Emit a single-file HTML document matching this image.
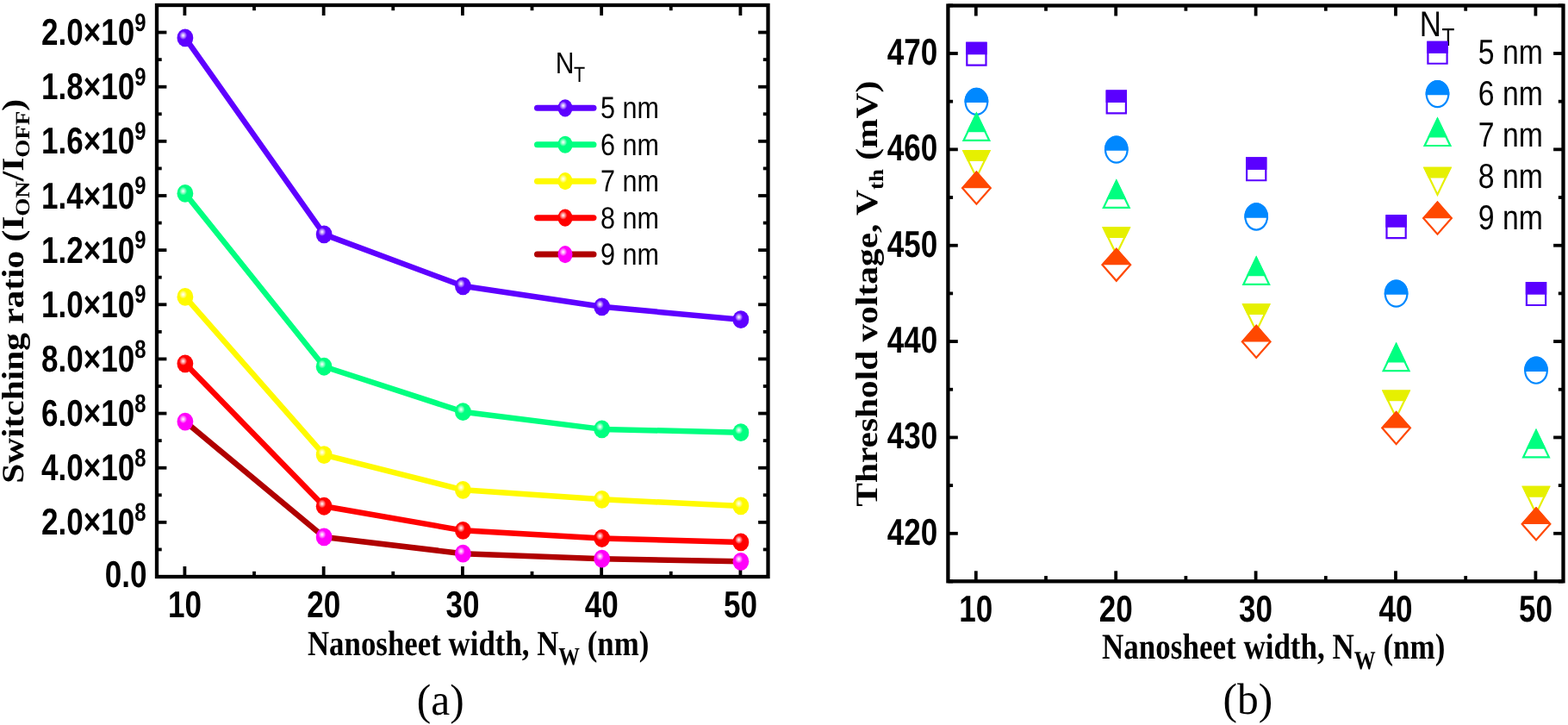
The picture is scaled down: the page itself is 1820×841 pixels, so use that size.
<!DOCTYPE html><html><head><meta charset="utf-8"><title>Figure</title><style>html,body{margin:0;padding:0;background:#fff;overflow:hidden}svg{display:block}</style></head><body><svg width="1820" height="841" viewBox="0 0 1820 841" text-rendering="geometricPrecision"><defs><radialGradient id="hl"><stop offset="0" stop-color="#fff" stop-opacity="1"/><stop offset="0.45" stop-color="#fff" stop-opacity="0.6"/><stop offset="1" stop-color="#fff" stop-opacity="0"/></radialGradient></defs><rect width="1820" height="841" fill="#fff"/><g stroke="#000" stroke-width="3.8"><line x1="214.4" y1="669" x2="214.4" y2="657"/><line x1="214.4" y1="6" x2="214.4" y2="18"/><line x1="375.65" y1="669" x2="375.65" y2="657"/><line x1="375.65" y1="6" x2="375.65" y2="18"/><line x1="536.9" y1="669" x2="536.9" y2="657"/><line x1="536.9" y1="6" x2="536.9" y2="18"/><line x1="698.15" y1="669" x2="698.15" y2="657"/><line x1="698.15" y1="6" x2="698.15" y2="18"/><line x1="859.4" y1="669" x2="859.4" y2="657"/><line x1="859.4" y1="6" x2="859.4" y2="18"/><line x1="295.02" y1="669" x2="295.02" y2="662.8"/><line x1="295.02" y1="6" x2="295.02" y2="12.2"/><line x1="456.27" y1="669" x2="456.27" y2="662.8"/><line x1="456.27" y1="6" x2="456.27" y2="12.2"/><line x1="617.52" y1="669" x2="617.52" y2="662.8"/><line x1="617.52" y1="6" x2="617.52" y2="12.2"/><line x1="778.77" y1="669" x2="778.77" y2="662.8"/><line x1="778.77" y1="6" x2="778.77" y2="12.2"/><line x1="182" y1="669" x2="193.4" y2="669"/><line x1="891.5" y1="669" x2="880.1" y2="669"/><line x1="182" y1="605.86" x2="193.4" y2="605.86"/><line x1="891.5" y1="605.86" x2="880.1" y2="605.86"/><line x1="182" y1="542.71" x2="193.4" y2="542.71"/><line x1="891.5" y1="542.71" x2="880.1" y2="542.71"/><line x1="182" y1="479.57" x2="193.4" y2="479.57"/><line x1="891.5" y1="479.57" x2="880.1" y2="479.57"/><line x1="182" y1="416.43" x2="193.4" y2="416.43"/><line x1="891.5" y1="416.43" x2="880.1" y2="416.43"/><line x1="182" y1="353.29" x2="193.4" y2="353.29"/><line x1="891.5" y1="353.29" x2="880.1" y2="353.29"/><line x1="182" y1="290.14" x2="193.4" y2="290.14"/><line x1="891.5" y1="290.14" x2="880.1" y2="290.14"/><line x1="182" y1="227" x2="193.4" y2="227"/><line x1="891.5" y1="227" x2="880.1" y2="227"/><line x1="182" y1="163.86" x2="193.4" y2="163.86"/><line x1="891.5" y1="163.86" x2="880.1" y2="163.86"/><line x1="182" y1="100.71" x2="193.4" y2="100.71"/><line x1="891.5" y1="100.71" x2="880.1" y2="100.71"/><line x1="182" y1="37.57" x2="193.4" y2="37.57"/><line x1="891.5" y1="37.57" x2="880.1" y2="37.57"/><line x1="182" y1="637.43" x2="187.7" y2="637.43"/><line x1="891.5" y1="637.43" x2="885.8" y2="637.43"/><line x1="182" y1="574.29" x2="187.7" y2="574.29"/><line x1="891.5" y1="574.29" x2="885.8" y2="574.29"/><line x1="182" y1="511.14" x2="187.7" y2="511.14"/><line x1="891.5" y1="511.14" x2="885.8" y2="511.14"/><line x1="182" y1="448" x2="187.7" y2="448"/><line x1="891.5" y1="448" x2="885.8" y2="448"/><line x1="182" y1="384.86" x2="187.7" y2="384.86"/><line x1="891.5" y1="384.86" x2="885.8" y2="384.86"/><line x1="182" y1="321.71" x2="187.7" y2="321.71"/><line x1="891.5" y1="321.71" x2="885.8" y2="321.71"/><line x1="182" y1="258.57" x2="187.7" y2="258.57"/><line x1="891.5" y1="258.57" x2="885.8" y2="258.57"/><line x1="182" y1="195.43" x2="187.7" y2="195.43"/><line x1="891.5" y1="195.43" x2="885.8" y2="195.43"/><line x1="182" y1="132.29" x2="187.7" y2="132.29"/><line x1="891.5" y1="132.29" x2="885.8" y2="132.29"/><line x1="182" y1="69.14" x2="187.7" y2="69.14"/><line x1="891.5" y1="69.14" x2="885.8" y2="69.14"/></g><rect x="182" y="6" width="709.5" height="663" fill="none" stroke="#000" stroke-width="4.3" stroke-linejoin="miter"/><polyline points="214.9,43.89 376.15,271.83 537.4,331.82 698.65,355.81 859.9,370.65" fill="none" stroke="#5e00ff" stroke-width="6.5" stroke-linejoin="round"/><polyline points="214.9,224.47 376.15,425.27 537.4,477.68 698.65,497.88 859.9,501.67" fill="none" stroke="#00ff80" stroke-width="6.5" stroke-linejoin="round"/><polyline points="214.9,344.45 376.15,527.56 537.4,568.29 698.65,579.34 859.9,586.91" fill="none" stroke="#fffa00" stroke-width="6.5" stroke-linejoin="round"/><polyline points="214.9,421.8 376.15,587.23 537.4,615.33 698.65,624.48 859.9,628.9" fill="none" stroke="#ff0000" stroke-width="6.5" stroke-linejoin="round"/><polyline points="214.9,489.04 376.15,622.91 537.4,642.16 698.65,648.16 859.9,651.32" fill="none" stroke="#b00000" stroke-width="6.5" stroke-linejoin="round"/><ellipse cx="214.9" cy="43.89" rx="9.4" ry="10.4" fill="#5e00ff"/><ellipse cx="212.6" cy="41.09" rx="4.6" ry="5" fill="url(#hl)"/><ellipse cx="376.15" cy="271.83" rx="9.4" ry="10.4" fill="#5e00ff"/><ellipse cx="373.85" cy="269.03" rx="4.6" ry="5" fill="url(#hl)"/><ellipse cx="537.4" cy="331.82" rx="9.4" ry="10.4" fill="#5e00ff"/><ellipse cx="535.1" cy="329.02" rx="4.6" ry="5" fill="url(#hl)"/><ellipse cx="698.65" cy="355.81" rx="9.4" ry="10.4" fill="#5e00ff"/><ellipse cx="696.35" cy="353.01" rx="4.6" ry="5" fill="url(#hl)"/><ellipse cx="859.9" cy="370.65" rx="9.4" ry="10.4" fill="#5e00ff"/><ellipse cx="857.6" cy="367.85" rx="4.6" ry="5" fill="url(#hl)"/><ellipse cx="214.9" cy="224.47" rx="9.4" ry="10.4" fill="#00ff80"/><ellipse cx="212.6" cy="221.67" rx="4.6" ry="5" fill="url(#hl)"/><ellipse cx="376.15" cy="425.27" rx="9.4" ry="10.4" fill="#00ff80"/><ellipse cx="373.85" cy="422.47" rx="4.6" ry="5" fill="url(#hl)"/><ellipse cx="537.4" cy="477.68" rx="9.4" ry="10.4" fill="#00ff80"/><ellipse cx="535.1" cy="474.88" rx="4.6" ry="5" fill="url(#hl)"/><ellipse cx="698.65" cy="497.88" rx="9.4" ry="10.4" fill="#00ff80"/><ellipse cx="696.35" cy="495.08" rx="4.6" ry="5" fill="url(#hl)"/><ellipse cx="859.9" cy="501.67" rx="9.4" ry="10.4" fill="#00ff80"/><ellipse cx="857.6" cy="498.87" rx="4.6" ry="5" fill="url(#hl)"/><ellipse cx="214.9" cy="344.45" rx="9.4" ry="10.4" fill="#fffa00"/><ellipse cx="212.6" cy="341.65" rx="4.6" ry="5" fill="url(#hl)"/><ellipse cx="376.15" cy="527.56" rx="9.4" ry="10.4" fill="#fffa00"/><ellipse cx="373.85" cy="524.76" rx="4.6" ry="5" fill="url(#hl)"/><ellipse cx="537.4" cy="568.29" rx="9.4" ry="10.4" fill="#fffa00"/><ellipse cx="535.1" cy="565.49" rx="4.6" ry="5" fill="url(#hl)"/><ellipse cx="698.65" cy="579.34" rx="9.4" ry="10.4" fill="#fffa00"/><ellipse cx="696.35" cy="576.54" rx="4.6" ry="5" fill="url(#hl)"/><ellipse cx="859.9" cy="586.91" rx="9.4" ry="10.4" fill="#fffa00"/><ellipse cx="857.6" cy="584.11" rx="4.6" ry="5" fill="url(#hl)"/><ellipse cx="214.9" cy="421.8" rx="9.4" ry="10.4" fill="#ff0000"/><ellipse cx="212.6" cy="419" rx="4.6" ry="5" fill="url(#hl)"/><ellipse cx="376.15" cy="587.23" rx="9.4" ry="10.4" fill="#ff0000"/><ellipse cx="373.85" cy="584.43" rx="4.6" ry="5" fill="url(#hl)"/><ellipse cx="537.4" cy="615.33" rx="9.4" ry="10.4" fill="#ff0000"/><ellipse cx="535.1" cy="612.53" rx="4.6" ry="5" fill="url(#hl)"/><ellipse cx="698.65" cy="624.48" rx="9.4" ry="10.4" fill="#ff0000"/><ellipse cx="696.35" cy="621.68" rx="4.6" ry="5" fill="url(#hl)"/><ellipse cx="859.9" cy="628.9" rx="9.4" ry="10.4" fill="#ff0000"/><ellipse cx="857.6" cy="626.1" rx="4.6" ry="5" fill="url(#hl)"/><ellipse cx="214.9" cy="489.04" rx="9.4" ry="10.4" fill="#ff00fa"/><ellipse cx="212.6" cy="486.24" rx="4.6" ry="5" fill="url(#hl)"/><ellipse cx="376.15" cy="622.91" rx="9.4" ry="10.4" fill="#ff00fa"/><ellipse cx="373.85" cy="620.11" rx="4.6" ry="5" fill="url(#hl)"/><ellipse cx="537.4" cy="642.16" rx="9.4" ry="10.4" fill="#ff00fa"/><ellipse cx="535.1" cy="639.36" rx="4.6" ry="5" fill="url(#hl)"/><ellipse cx="698.65" cy="648.16" rx="9.4" ry="10.4" fill="#ff00fa"/><ellipse cx="696.35" cy="645.36" rx="4.6" ry="5" fill="url(#hl)"/><ellipse cx="859.9" cy="651.32" rx="9.4" ry="10.4" fill="#ff00fa"/><ellipse cx="857.6" cy="648.52" rx="4.6" ry="5" fill="url(#hl)"/><text transform="translate(170.6 681.2) scale(0.81 1)" font-size="43.3" font-family="'Liberation Sans', Arial, sans-serif" font-weight="bold" text-anchor="end">0.0</text><text transform="translate(156.2 620.36) scale(0.81 1)" font-size="43.3" font-family="'Liberation Sans', Arial, sans-serif" font-weight="bold" text-anchor="end">2.0&#215;10</text><text transform="translate(156.3 604.06) scale(0.81 1)" font-size="29.5" font-family="'Liberation Sans', Arial, sans-serif" font-weight="bold" text-anchor="start">8</text><text transform="translate(156.2 557.21) scale(0.81 1)" font-size="43.3" font-family="'Liberation Sans', Arial, sans-serif" font-weight="bold" text-anchor="end">4.0&#215;10</text><text transform="translate(156.3 540.91) scale(0.81 1)" font-size="29.5" font-family="'Liberation Sans', Arial, sans-serif" font-weight="bold" text-anchor="start">8</text><text transform="translate(156.2 494.07) scale(0.81 1)" font-size="43.3" font-family="'Liberation Sans', Arial, sans-serif" font-weight="bold" text-anchor="end">6.0&#215;10</text><text transform="translate(156.3 477.77) scale(0.81 1)" font-size="29.5" font-family="'Liberation Sans', Arial, sans-serif" font-weight="bold" text-anchor="start">8</text><text transform="translate(156.2 430.93) scale(0.81 1)" font-size="43.3" font-family="'Liberation Sans', Arial, sans-serif" font-weight="bold" text-anchor="end">8.0&#215;10</text><text transform="translate(156.3 414.63) scale(0.81 1)" font-size="29.5" font-family="'Liberation Sans', Arial, sans-serif" font-weight="bold" text-anchor="start">8</text><text transform="translate(156.2 367.79) scale(0.81 1)" font-size="43.3" font-family="'Liberation Sans', Arial, sans-serif" font-weight="bold" text-anchor="end">1.0&#215;10</text><text transform="translate(156.3 351.49) scale(0.81 1)" font-size="29.5" font-family="'Liberation Sans', Arial, sans-serif" font-weight="bold" text-anchor="start">9</text><text transform="translate(156.2 304.64) scale(0.81 1)" font-size="43.3" font-family="'Liberation Sans', Arial, sans-serif" font-weight="bold" text-anchor="end">1.2&#215;10</text><text transform="translate(156.3 288.34) scale(0.81 1)" font-size="29.5" font-family="'Liberation Sans', Arial, sans-serif" font-weight="bold" text-anchor="start">9</text><text transform="translate(156.2 241.5) scale(0.81 1)" font-size="43.3" font-family="'Liberation Sans', Arial, sans-serif" font-weight="bold" text-anchor="end">1.4&#215;10</text><text transform="translate(156.3 225.2) scale(0.81 1)" font-size="29.5" font-family="'Liberation Sans', Arial, sans-serif" font-weight="bold" text-anchor="start">9</text><text transform="translate(156.2 178.36) scale(0.81 1)" font-size="43.3" font-family="'Liberation Sans', Arial, sans-serif" font-weight="bold" text-anchor="end">1.6&#215;10</text><text transform="translate(156.3 162.06) scale(0.81 1)" font-size="29.5" font-family="'Liberation Sans', Arial, sans-serif" font-weight="bold" text-anchor="start">9</text><text transform="translate(156.2 115.21) scale(0.81 1)" font-size="43.3" font-family="'Liberation Sans', Arial, sans-serif" font-weight="bold" text-anchor="end">1.8&#215;10</text><text transform="translate(156.3 98.91) scale(0.81 1)" font-size="29.5" font-family="'Liberation Sans', Arial, sans-serif" font-weight="bold" text-anchor="start">9</text><text transform="translate(156.2 52.07) scale(0.81 1)" font-size="43.3" font-family="'Liberation Sans', Arial, sans-serif" font-weight="bold" text-anchor="end">2.0&#215;10</text><text transform="translate(156.3 35.77) scale(0.81 1)" font-size="29.5" font-family="'Liberation Sans', Arial, sans-serif" font-weight="bold" text-anchor="start">9</text><text transform="translate(214.4 716) scale(0.81 1)" font-size="43.3" font-family="'Liberation Sans', Arial, sans-serif" font-weight="bold" text-anchor="middle">10</text><text transform="translate(375.65 716) scale(0.81 1)" font-size="43.3" font-family="'Liberation Sans', Arial, sans-serif" font-weight="bold" text-anchor="middle">20</text><text transform="translate(536.9 716) scale(0.81 1)" font-size="43.3" font-family="'Liberation Sans', Arial, sans-serif" font-weight="bold" text-anchor="middle">30</text><text transform="translate(698.15 716) scale(0.81 1)" font-size="43.3" font-family="'Liberation Sans', Arial, sans-serif" font-weight="bold" text-anchor="middle">40</text><text transform="translate(859.4 716) scale(0.81 1)" font-size="43.3" font-family="'Liberation Sans', Arial, sans-serif" font-weight="bold" text-anchor="middle">50</text><text transform="translate(555.15 759.5) scale(0.85 1)" font-size="41" font-family="'Liberation Serif', 'Times New Roman', serif" font-weight="bold" text-anchor="middle">Nanosheet width, N<tspan font-size="29" dy="11.3">W</tspan><tspan dy="-11.3"> (nm)</tspan></text><text transform="translate(27.3 337.8) rotate(-90) scale(1 0.87)" font-size="41.33" font-family="'Liberation Serif', 'Times New Roman', serif" font-weight="bold" text-anchor="middle">Switching ratio (I<tspan font-size="27" dy="8">ON</tspan><tspan dy="-8">/I</tspan><tspan font-size="27" dy="8">OFF</tspan><tspan dy="-8">)</tspan></text><text transform="translate(511.3 829) scale(0.97 1)" font-size="51" font-family="'Liberation Serif', 'Times New Roman', serif" font-weight="normal" text-anchor="middle">(a)</text><text transform="translate(644.8 85.3) scale(0.86 1)" font-size="35" font-family="'Liberation Sans', Arial, sans-serif" font-weight="normal" text-anchor="start">N</text><text transform="translate(666 95.3) scale(0.86 1)" font-size="25" font-family="'Liberation Sans', Arial, sans-serif" font-weight="normal" text-anchor="start">T</text><line x1="623.5" y1="125.3" x2="689" y2="125.3" stroke="#5e00ff" stroke-width="7" stroke-linecap="round"/><ellipse cx="656" cy="125.3" rx="8.5" ry="10.1" fill="#5e00ff"/><ellipse cx="653.7" cy="122.5" rx="4.6" ry="5" fill="url(#hl)"/><text transform="translate(697 137.3) scale(0.86 1)" font-size="35.5" font-family="'Liberation Sans', Arial, sans-serif" font-weight="normal" text-anchor="start">5 nm</text><line x1="623.5" y1="167.75" x2="689" y2="167.75" stroke="#00ff80" stroke-width="7" stroke-linecap="round"/><ellipse cx="656" cy="167.75" rx="8.5" ry="10.1" fill="#00ff80"/><ellipse cx="653.7" cy="164.95" rx="4.6" ry="5" fill="url(#hl)"/><text transform="translate(697 179.75) scale(0.86 1)" font-size="35.5" font-family="'Liberation Sans', Arial, sans-serif" font-weight="normal" text-anchor="start">6 nm</text><line x1="623.5" y1="210.2" x2="689" y2="210.2" stroke="#fffa00" stroke-width="7" stroke-linecap="round"/><ellipse cx="656" cy="210.2" rx="8.5" ry="10.1" fill="#fffa00"/><ellipse cx="653.7" cy="207.4" rx="4.6" ry="5" fill="url(#hl)"/><text transform="translate(697 222.2) scale(0.86 1)" font-size="35.5" font-family="'Liberation Sans', Arial, sans-serif" font-weight="normal" text-anchor="start">7 nm</text><line x1="623.5" y1="252.65" x2="689" y2="252.65" stroke="#ff0000" stroke-width="7" stroke-linecap="round"/><ellipse cx="656" cy="252.65" rx="8.5" ry="10.1" fill="#ff0000"/><ellipse cx="653.7" cy="249.85" rx="4.6" ry="5" fill="url(#hl)"/><text transform="translate(697 264.65) scale(0.86 1)" font-size="35.5" font-family="'Liberation Sans', Arial, sans-serif" font-weight="normal" text-anchor="start">8 nm</text><line x1="623.5" y1="295.1" x2="689" y2="295.1" stroke="#b00000" stroke-width="7" stroke-linecap="round"/><ellipse cx="656" cy="295.1" rx="8.5" ry="10.1" fill="#ff00fa"/><ellipse cx="653.7" cy="292.3" rx="4.6" ry="5" fill="url(#hl)"/><text transform="translate(697 307.1) scale(0.86 1)" font-size="35.5" font-family="'Liberation Sans', Arial, sans-serif" font-weight="normal" text-anchor="start">9 nm</text><g stroke="#000" stroke-width="3.8"><line x1="1132.8" y1="674.3" x2="1132.8" y2="662.3"/><line x1="1132.8" y1="6.5" x2="1132.8" y2="18.5"/><line x1="1295.2" y1="674.3" x2="1295.2" y2="662.3"/><line x1="1295.2" y1="6.5" x2="1295.2" y2="18.5"/><line x1="1457.6" y1="674.3" x2="1457.6" y2="662.3"/><line x1="1457.6" y1="6.5" x2="1457.6" y2="18.5"/><line x1="1620" y1="674.3" x2="1620" y2="662.3"/><line x1="1620" y1="6.5" x2="1620" y2="18.5"/><line x1="1782.4" y1="674.3" x2="1782.4" y2="662.3"/><line x1="1782.4" y1="6.5" x2="1782.4" y2="18.5"/><line x1="1214" y1="674.3" x2="1214" y2="668.1"/><line x1="1214" y1="6.5" x2="1214" y2="12.7"/><line x1="1376.4" y1="674.3" x2="1376.4" y2="668.1"/><line x1="1376.4" y1="6.5" x2="1376.4" y2="12.7"/><line x1="1538.8" y1="674.3" x2="1538.8" y2="668.1"/><line x1="1538.8" y1="6.5" x2="1538.8" y2="12.7"/><line x1="1701.2" y1="674.3" x2="1701.2" y2="668.1"/><line x1="1701.2" y1="6.5" x2="1701.2" y2="12.7"/><line x1="1100.4" y1="618.8" x2="1111.8" y2="618.8"/><line x1="1814.5" y1="618.8" x2="1803.1" y2="618.8"/><line x1="1100.4" y1="507.44" x2="1111.8" y2="507.44"/><line x1="1814.5" y1="507.44" x2="1803.1" y2="507.44"/><line x1="1100.4" y1="396.08" x2="1111.8" y2="396.08"/><line x1="1814.5" y1="396.08" x2="1803.1" y2="396.08"/><line x1="1100.4" y1="284.72" x2="1111.8" y2="284.72"/><line x1="1814.5" y1="284.72" x2="1803.1" y2="284.72"/><line x1="1100.4" y1="173.36" x2="1111.8" y2="173.36"/><line x1="1814.5" y1="173.36" x2="1803.1" y2="173.36"/><line x1="1100.4" y1="62" x2="1111.8" y2="62"/><line x1="1814.5" y1="62" x2="1803.1" y2="62"/><line x1="1100.4" y1="674.48" x2="1106.1" y2="674.48"/><line x1="1814.5" y1="674.48" x2="1808.8" y2="674.48"/><line x1="1100.4" y1="563.12" x2="1106.1" y2="563.12"/><line x1="1814.5" y1="563.12" x2="1808.8" y2="563.12"/><line x1="1100.4" y1="451.76" x2="1106.1" y2="451.76"/><line x1="1814.5" y1="451.76" x2="1808.8" y2="451.76"/><line x1="1100.4" y1="340.4" x2="1106.1" y2="340.4"/><line x1="1814.5" y1="340.4" x2="1808.8" y2="340.4"/><line x1="1100.4" y1="229.04" x2="1106.1" y2="229.04"/><line x1="1814.5" y1="229.04" x2="1808.8" y2="229.04"/><line x1="1100.4" y1="117.68" x2="1106.1" y2="117.68"/><line x1="1814.5" y1="117.68" x2="1808.8" y2="117.68"/><line x1="1100.4" y1="6.32" x2="1106.1" y2="6.32"/><line x1="1814.5" y1="6.32" x2="1808.8" y2="6.32"/></g><rect x="1100.4" y="6.5" width="714.1" height="667.8" fill="none" stroke="#000" stroke-width="4.3" stroke-linejoin="miter"/><path d="M1121.2 48.7h24.4v28h-24.4Z M1123.4 50.9v23.6h20v-23.6Z" fill="#5a00ff" fill-rule="evenodd"/><rect x="1121.2" y="48.7" width="24.4" height="14.6" fill="#5a00ff"/><path d="M1283.6 104.38h24.4v28h-24.4Z M1285.8 106.58v23.6h20v-23.6Z" fill="#5a00ff" fill-rule="evenodd"/><rect x="1283.6" y="104.38" width="24.4" height="14.6" fill="#5a00ff"/><path d="M1446 182.33h24.4v28h-24.4Z M1448.2 184.53v23.6h20v-23.6Z" fill="#5a00ff" fill-rule="evenodd"/><rect x="1446" y="182.33" width="24.4" height="14.6" fill="#5a00ff"/><path d="M1608.4 249.15h24.4v28h-24.4Z M1610.6 251.35v23.6h20v-23.6Z" fill="#5a00ff" fill-rule="evenodd"/><rect x="1608.4" y="249.15" width="24.4" height="14.6" fill="#5a00ff"/><path d="M1770.8 327.1h24.4v28h-24.4Z M1773 329.3v23.6h20v-23.6Z" fill="#5a00ff" fill-rule="evenodd"/><rect x="1770.8" y="327.1" width="24.4" height="14.6" fill="#5a00ff"/><path d="M1119.5 117.88a13.9 16.15 0 1 0 27.8 0a13.9 16.15 0 1 0 -27.8 0Z M1121.7 117.88a11.7 13.95 0 1 0 23.4 0a11.7 13.95 0 1 0 -23.4 0Z" fill="#0088ff" fill-rule="evenodd"/><path d="M1119.54 119.08A13.9 16.15 0 1 1 1147.26 119.08Z" fill="#0088ff"/><path d="M1281.9 173.56a13.9 16.15 0 1 0 27.8 0a13.9 16.15 0 1 0 -27.8 0Z M1284.1 173.56a11.7 13.95 0 1 0 23.4 0a11.7 13.95 0 1 0 -23.4 0Z" fill="#0088ff" fill-rule="evenodd"/><path d="M1281.94 174.76A13.9 16.15 0 1 1 1309.66 174.76Z" fill="#0088ff"/><path d="M1444.3 251.51a13.9 16.15 0 1 0 27.8 0a13.9 16.15 0 1 0 -27.8 0Z M1446.5 251.51a11.7 13.95 0 1 0 23.4 0a11.7 13.95 0 1 0 -23.4 0Z" fill="#0088ff" fill-rule="evenodd"/><path d="M1444.34 252.71A13.9 16.15 0 1 1 1472.06 252.71Z" fill="#0088ff"/><path d="M1606.7 340.6a13.9 16.15 0 1 0 27.8 0a13.9 16.15 0 1 0 -27.8 0Z M1608.9 340.6a11.7 13.95 0 1 0 23.4 0a11.7 13.95 0 1 0 -23.4 0Z" fill="#0088ff" fill-rule="evenodd"/><path d="M1606.74 341.8A13.9 16.15 0 1 1 1634.46 341.8Z" fill="#0088ff"/><path d="M1769.1 429.69a13.9 16.15 0 1 0 27.8 0a13.9 16.15 0 1 0 -27.8 0Z M1771.3 429.69a11.7 13.95 0 1 0 23.4 0a11.7 13.95 0 1 0 -23.4 0Z" fill="#0088ff" fill-rule="evenodd"/><path d="M1769.14 430.89A13.9 16.15 0 1 1 1796.86 430.89Z" fill="#0088ff"/><path d="M1133.4,129.49 L1150.05,163.99 L1116.75,163.99Z M1133.4,134.55 L1146.55,161.79 L1120.25,161.79Z" fill="#00ff80" fill-rule="evenodd"/><path d="M1133.4,129.49 L1144.89,153.29 L1121.91,153.29Z" fill="#00ff80"/><path d="M1295.8,207.44 L1312.45,241.94 L1279.15,241.94Z M1295.8,212.5 L1308.95,239.74 L1282.65,239.74Z" fill="#00ff80" fill-rule="evenodd"/><path d="M1295.8,207.44 L1307.29,231.24 L1284.31,231.24Z" fill="#00ff80"/><path d="M1458.2,296.53 L1474.85,331.03 L1441.55,331.03Z M1458.2,301.59 L1471.35,328.83 L1445.05,328.83Z" fill="#00ff80" fill-rule="evenodd"/><path d="M1458.2,296.53 L1469.69,320.33 L1446.71,320.33Z" fill="#00ff80"/><path d="M1620.6,396.75 L1637.25,431.25 L1603.95,431.25Z M1620.6,401.81 L1633.75,429.05 L1607.45,429.05Z" fill="#00ff80" fill-rule="evenodd"/><path d="M1620.6,396.75 L1632.09,420.55 L1609.11,420.55Z" fill="#00ff80"/><path d="M1783,496.98 L1799.65,531.48 L1766.35,531.48Z M1783,502.04 L1796.15,529.28 L1769.85,529.28Z" fill="#00ff80" fill-rule="evenodd"/><path d="M1783,496.98 L1794.49,520.78 L1771.51,520.78Z" fill="#00ff80"/><path d="M1116.75,174.1 L1150.05,174.1 L1133.4,208.6Z M1120.25,176.3 L1146.55,176.3 L1133.4,203.53Z" fill="#e6f000" fill-rule="evenodd"/><path d="M1116.75,174.1 L1150.05,174.1 L1143.87,186.9 L1122.93,186.9Z" fill="#e6f000"/><path d="M1279.15,263.18 L1312.45,263.18 L1295.8,297.68Z M1282.65,265.38 L1308.95,265.38 L1295.8,292.62Z" fill="#e6f000" fill-rule="evenodd"/><path d="M1279.15,263.18 L1312.45,263.18 L1306.27,275.98 L1285.33,275.98Z" fill="#e6f000"/><path d="M1441.55,352.27 L1474.85,352.27 L1458.2,386.77Z M1445.05,354.47 L1471.35,354.47 L1458.2,381.71Z" fill="#e6f000" fill-rule="evenodd"/><path d="M1441.55,352.27 L1474.85,352.27 L1468.67,365.07 L1447.73,365.07Z" fill="#e6f000"/><path d="M1603.95,452.5 L1637.25,452.5 L1620.6,487Z M1607.45,454.7 L1633.75,454.7 L1620.6,481.93Z" fill="#e6f000" fill-rule="evenodd"/><path d="M1603.95,452.5 L1637.25,452.5 L1631.07,465.3 L1610.13,465.3Z" fill="#e6f000"/><path d="M1766.35,563.86 L1799.65,563.86 L1783,598.36Z M1769.85,566.06 L1796.15,566.06 L1783,593.29Z" fill="#e6f000" fill-rule="evenodd"/><path d="M1766.35,563.86 L1799.65,563.86 L1793.47,576.66 L1772.53,576.66Z" fill="#e6f000"/><path d="M1115.7,218.2 L1133.4,198.1 L1151.1,218.2 L1133.4,238.3Z M1118.63,218.2 L1133.4,201.43 L1148.17,218.2 L1133.4,234.98Z" fill="#ff4800" fill-rule="evenodd"/><path d="M1115.7,218.2 L1133.4,198.1 L1151.1,218.2 L1151.1,218.2 L1115.7,218.2Z" fill="#ff4800"/><path d="M1278.1,307.29 L1295.8,287.19 L1313.5,307.29 L1295.8,327.39Z M1281.03,307.29 L1295.8,290.52 L1310.57,307.29 L1295.8,324.06Z" fill="#ff4800" fill-rule="evenodd"/><path d="M1278.1,307.29 L1295.8,287.19 L1313.5,307.29 L1313.5,307.29 L1278.1,307.29Z" fill="#ff4800"/><path d="M1440.5,396.38 L1458.2,376.28 L1475.9,396.38 L1458.2,416.48Z M1443.43,396.38 L1458.2,379.61 L1472.97,396.38 L1458.2,413.15Z" fill="#ff4800" fill-rule="evenodd"/><path d="M1440.5,396.38 L1458.2,376.28 L1475.9,396.38 L1475.9,396.38 L1440.5,396.38Z" fill="#ff4800"/><path d="M1602.9,496.6 L1620.6,476.5 L1638.3,496.6 L1620.6,516.7Z M1605.83,496.6 L1620.6,479.83 L1635.37,496.6 L1620.6,513.38Z" fill="#ff4800" fill-rule="evenodd"/><path d="M1602.9,496.6 L1620.6,476.5 L1638.3,496.6 L1638.3,496.6 L1602.9,496.6Z" fill="#ff4800"/><path d="M1765.3,607.96 L1783,587.86 L1800.7,607.96 L1783,628.06Z M1768.23,607.96 L1783,591.19 L1797.77,607.96 L1783,624.74Z" fill="#ff4800" fill-rule="evenodd"/><path d="M1765.3,607.96 L1783,587.86 L1800.7,607.96 L1800.7,607.96 L1765.3,607.96Z" fill="#ff4800"/><text transform="translate(1088.3 631.8) scale(0.81 1)" font-size="43.3" font-family="'Liberation Sans', Arial, sans-serif" font-weight="bold" text-anchor="end">420</text><text transform="translate(1088.3 520.44) scale(0.81 1)" font-size="43.3" font-family="'Liberation Sans', Arial, sans-serif" font-weight="bold" text-anchor="end">430</text><text transform="translate(1088.3 409.08) scale(0.81 1)" font-size="43.3" font-family="'Liberation Sans', Arial, sans-serif" font-weight="bold" text-anchor="end">440</text><text transform="translate(1088.3 297.72) scale(0.81 1)" font-size="43.3" font-family="'Liberation Sans', Arial, sans-serif" font-weight="bold" text-anchor="end">450</text><text transform="translate(1088.3 186.36) scale(0.81 1)" font-size="43.3" font-family="'Liberation Sans', Arial, sans-serif" font-weight="bold" text-anchor="end">460</text><text transform="translate(1088.3 75) scale(0.81 1)" font-size="43.3" font-family="'Liberation Sans', Arial, sans-serif" font-weight="bold" text-anchor="end">470</text><text transform="translate(1132.8 721) scale(0.81 1)" font-size="43.3" font-family="'Liberation Sans', Arial, sans-serif" font-weight="bold" text-anchor="middle">10</text><text transform="translate(1295.2 721) scale(0.81 1)" font-size="43.3" font-family="'Liberation Sans', Arial, sans-serif" font-weight="bold" text-anchor="middle">20</text><text transform="translate(1457.6 721) scale(0.81 1)" font-size="43.3" font-family="'Liberation Sans', Arial, sans-serif" font-weight="bold" text-anchor="middle">30</text><text transform="translate(1620 721) scale(0.81 1)" font-size="43.3" font-family="'Liberation Sans', Arial, sans-serif" font-weight="bold" text-anchor="middle">40</text><text transform="translate(1782.4 721) scale(0.81 1)" font-size="43.3" font-family="'Liberation Sans', Arial, sans-serif" font-weight="bold" text-anchor="middle">50</text><text transform="translate(1478.2 764.4) scale(0.83 1)" font-size="42.2" font-family="'Liberation Serif', 'Times New Roman', serif" font-weight="bold" text-anchor="middle">Nanosheet width, N<tspan font-size="30" dy="11.6">W</tspan><tspan dy="-11.6"> (nm)</tspan></text><text transform="translate(1018.3 340.75) rotate(-90) scale(1 0.87)" font-size="41.4" font-family="'Liberation Serif', 'Times New Roman', serif" font-weight="bold" text-anchor="middle">Threshold voltage, V<tspan font-size="27" dy="8">th</tspan><tspan dy="-8"> (mV)</tspan></text><text transform="translate(1448.4 827.5) scale(0.97 1)" font-size="51" font-family="'Liberation Serif', 'Times New Roman', serif" font-weight="normal" text-anchor="middle">(b)</text><text transform="translate(1647.8 41.6) scale(0.84 1)" font-size="41.4" font-family="'Liberation Sans', Arial, sans-serif" font-weight="normal" text-anchor="start">N</text><text transform="translate(1673.5 53) scale(0.84 1)" font-size="29" font-family="'Liberation Sans', Arial, sans-serif" font-weight="normal" text-anchor="start">T</text><path d="M1656.3 47.75h24.4v27.1h-24.4Z M1658.5 49.95v22.7h20v-22.7Z" fill="#5a00ff" fill-rule="evenodd"/><rect x="1656.3" y="47.75" width="24.4" height="14.15" fill="#5a00ff"/><text transform="translate(1715.8 74.1) scale(0.84 1)" font-size="40.2" font-family="'Liberation Sans', Arial, sans-serif" font-weight="normal" text-anchor="start">5 nm</text><path d="M1654.6 109.05a13.9 16.15 0 1 0 27.8 0a13.9 16.15 0 1 0 -27.8 0Z M1656.8 109.05a11.7 13.95 0 1 0 23.4 0a11.7 13.95 0 1 0 -23.4 0Z" fill="#0088ff" fill-rule="evenodd"/><path d="M1654.64 110.25A13.9 16.15 0 1 1 1682.36 110.25Z" fill="#0088ff"/><text transform="translate(1715.8 122.4) scale(0.84 1)" font-size="40.2" font-family="'Liberation Sans', Arial, sans-serif" font-weight="normal" text-anchor="start">6 nm</text><path d="M1668.5,135.6 L1685.15,170.1 L1651.85,170.1Z M1668.5,140.66 L1681.65,167.9 L1655.35,167.9Z" fill="#00ff80" fill-rule="evenodd"/><path d="M1668.5,135.6 L1679.99,159.4 L1657.01,159.4Z" fill="#00ff80"/><text transform="translate(1715.8 170.4) scale(0.84 1)" font-size="40.2" font-family="'Liberation Sans', Arial, sans-serif" font-weight="normal" text-anchor="start">7 nm</text><path d="M1651.85,193.8 L1685.15,193.8 L1668.5,228.3Z M1655.35,196 L1681.65,196 L1668.5,223.24Z" fill="#e6f000" fill-rule="evenodd"/><path d="M1651.85,193.8 L1685.15,193.8 L1678.97,206.6 L1658.03,206.6Z" fill="#e6f000"/><text transform="translate(1715.8 218) scale(0.84 1)" font-size="40.2" font-family="'Liberation Sans', Arial, sans-serif" font-weight="normal" text-anchor="start">8 nm</text><path d="M1650.8,253.2 L1668.5,233.1 L1686.2,253.2 L1668.5,273.3Z M1653.73,253.2 L1668.5,236.43 L1683.27,253.2 L1668.5,269.97Z" fill="#ff4800" fill-rule="evenodd"/><path d="M1650.8,253.2 L1668.5,233.1 L1686.2,253.2 L1686.2,253.2 L1650.8,253.2Z" fill="#ff4800"/><text transform="translate(1715.8 266.4) scale(0.84 1)" font-size="40.2" font-family="'Liberation Sans', Arial, sans-serif" font-weight="normal" text-anchor="start">9 nm</text></svg></body></html>
